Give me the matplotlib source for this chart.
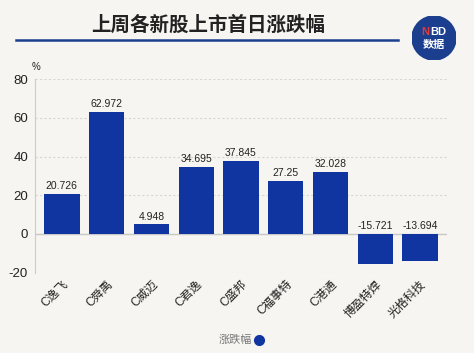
import matplotlib
matplotlib.use("Agg")
import matplotlib.pyplot as plt
from matplotlib.patches import Circle

plt.rcParams['font.family'] = ['Liberation Sans', 'Noto Sans CJK SC', 'DejaVu Sans']

names = ['C逸飞', 'C舜禹', 'C威迈', 'C君逸', 'C盛邦', 'C福事特', 'C港通', '博盈特焊', '光格科技']
values = [20.726, 62.972, 4.948, 34.695, 37.845, 27.25, 32.028, -15.721, -13.694]
labels = ['20.726', '62.972', '4.948', '34.695', '37.845', '27.25', '32.028', '-15.721', '-13.694']
yticks = [-20, 0, 20, 40, 60, 80]

bg = '#f7f5f1'
bar_color = '#1035a0'
navy = '#1b3f8e'

W, H = 474, 353
fig = plt.figure(figsize=(W / 100, H / 100), dpi=100, facecolor=bg)

# title + underline
fig.text(208 / W, 1 - 25 / H, '上周各新股上市首日涨跌幅', ha='center', va='center',
         fontsize=14, fontweight='bold', color='#222222', family=['Noto Sans CJK SC'])
fig.add_artist(plt.Line2D([16 / W, 398 / W], [1 - 40 / H, 1 - 40 / H], color=navy, lw=1.8))

# NBD logo
logo = fig.add_axes([412 / W, 1 - 60 / H, 44 / W, 44 / H])
logo.set_xlim(-1, 1)
logo.set_ylim(-1, 1)
logo.set_aspect('equal')
logo.axis('off')
logo.add_patch(Circle((0, 0), 1, color=navy))
logo.text(-0.38, 0.28, 'N', color='#e03a3a', fontsize=8, fontweight='bold', ha='center', va='center')
logo.text(0.18, 0.28, 'BD', color='white', fontsize=8, fontweight='bold', ha='center', va='center')
logo.text(0, -0.32, '数据', color='white', fontsize=8, fontweight='bold', ha='center', va='center')

# main chart
ax = fig.add_axes([35 / W, (H - 272.75) / H, 412 / W, (272.75 - 79) / H])
ax.set_facecolor(bg)
x = range(len(names))
ax.bar(x, values, width=0.79, color=bar_color, zorder=3)
for i, (v, s) in enumerate(zip(values, labels)):
    ax.text(i, max(v, 0) + 1.5, s, ha='center', va='bottom', fontsize=7.5, color='#222222', zorder=4)

ax.set_xlim(-0.6, len(names) - 0.4)
ax.set_ylim(-20, 80)
ax.set_yticks(yticks)
ax.set_yticklabels([str(t) for t in yticks], fontsize=9.5, color='#222222')
ax.yaxis.grid(True, linestyle=(0, (2, 2)), color='#d8d6d2', lw=0.8, zorder=0)
ax.axhline(0, color='#c8c8c8', lw=1, zorder=2)
for sp in ['top', 'right', 'bottom']:
    ax.spines[sp].set_visible(False)
ax.spines['left'].set_color('#cccccc')
ax.tick_params(axis='y', length=0, pad=5)
ax.tick_params(axis='x', length=0, pad=4)
ax.set_xticks(list(x))
ax.set_xticklabels(names, rotation=45, ha='right', rotation_mode='anchor', fontsize=8.5, color='#222222')
ax.text(-0.008, 1.035, '%', transform=ax.transAxes, fontsize=7, color='#222222', ha='left', va='bottom')

# legend
fig.text(252 / W, 1 - 340 / H, '涨跌幅', ha='right', va='center', fontsize=8, color='#777777')
fig.add_artist(plt.Line2D([259 / W], [1 - 340 / H], marker='o', markersize=7, color=bar_color))

fig.savefig('out.png', dpi=100, facecolor=bg)
